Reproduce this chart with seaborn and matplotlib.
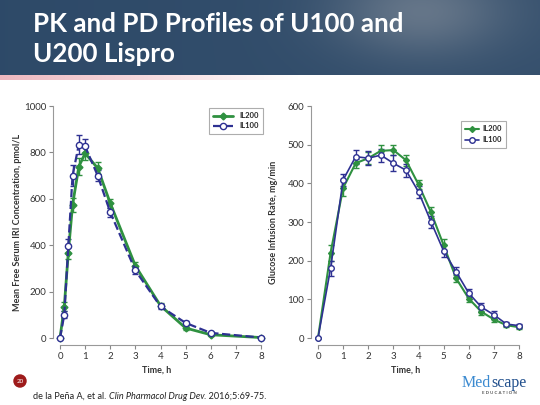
import numpy as np
import pandas as pd
import matplotlib
matplotlib.use("Agg")
import matplotlib.pyplot as plt
import seaborn as sns
from matplotlib.lines import Line2D
from matplotlib.patches import Circle

# ---------------- data ----------------
pk_time = [0, 0.17, 0.33, 0.5, 0.75, 1, 1.5, 2, 3, 4, 5, 6, 8]
pk_il200 = [0, 135, 367, 574, 739, 796, 732, 581, 311, 139, 43, 14, 2]
pk_il100 = [0, 100, 395, 700, 834, 826, 700, 542, 291, 136, 65, 22, 2]
pk_il200_err = [0, 20, 25, 30, 35, 28, 25, 20, 15, 10, 8, 5, 3]
pk_il100_err = [0, 15, 30, 45, 40, 30, 25, 20, 15, 12, 8, 5, 3]

pd_time = [0, 0.5, 1, 1.5, 2, 2.5, 3, 3.5, 4, 4.5, 5, 5.5, 6, 6.5, 7, 7.5, 8]
pd_il200 = [0, 220, 388, 452, 465, 484, 486, 460, 397, 325, 240, 154, 102, 68, 48, 33, 28]
pd_il100 = [0, 180, 409, 469, 465, 473, 452, 434, 378, 300, 225, 171, 116, 80, 60, 36, 32]
pd_il200_err = [0, 20, 20, 12, 15, 14, 14, 14, 12, 15, 15, 10, 10, 8, 6, 5, 5]
pd_il100_err = [0, 20, 15, 18, 18, 17, 20, 17, 15, 15, 15, 12, 10, 10, 10, 6, 5]

series_labels = ["IL200", "IL100"]
pk_yticks = [0, 200, 400, 600, 800, 1000]
pd_yticks = [0, 100, 200, 300, 400, 500, 600]
x_ticks = [0, 1, 2, 3, 4, 5, 6, 7, 8]

title_lines = ["PK and PD Profiles of U100 and", "U200 Lispro"]
pk_ylabel = "Mean Free Serum IRI Concentration, pmol/L"
pd_ylabel = "Glucose Infusion Rate, mg/min"
x_label = "Time, h"

GREEN = "#2f9140"
BLUE = "#2e3192"
TXT = "#333333"

sns.set_style("ticks")
plt.rcParams["font.family"] = ["Lato", "DejaVu Sans"]

W, H = 540, 405
fig = plt.figure(figsize=(W / 100, H / 100), dpi=100)
fig.patch.set_facecolor("white")

def fx(px):
    return px / W

def fy(py):
    return 1 - py / H

# ---------------- header ----------------
hax = fig.add_axes([0, fy(75), 1, 75 / H])
hax.set_axis_off()
xx = np.linspace(0, 1, 300)[None, :]
yy = np.linspace(0, 1, 60)[:, None]
base = np.array([0.18, 0.29, 0.41])
light = np.array([0.42, 0.48, 0.55])
blob = np.exp(-(((xx - 0.78) / 0.16) ** 2) - (((yy - 0.15) / 0.6) ** 2)) * 0.8
grad = (xx * 0.25)
mix = np.clip(blob + grad * 0.5, 0, 1)
img = base[None, None, :] * (1 - mix[..., None]) + light[None, None, :] * mix[..., None]
hax.imshow(img, aspect="auto", extent=[0, 1, 0, 1], origin="upper")
hax.set_xlim(0, 1)
hax.set_ylim(0, 1)
for line, base_y in zip(title_lines, [32, 62]):
    fig.text(fx(33), fy(base_y), line, color="white", fontsize=18.7,
             fontweight="bold", ha="left", va="baseline")

# pink strip
pax = fig.add_axes([0, fy(80), 1, 5 / H])
pax.set_axis_off()
g = np.clip(1 - np.linspace(0, 1, 300) / 0.55, 0, 1)[None, :]
pink = np.array([0.93, 0.72, 0.75])
white = np.array([1, 1, 1])
pimg = white[None, None, :] * (1 - g[..., None]) + pink[None, None, :] * g[..., None]
pax.imshow(pimg, aspect="auto", extent=[0, 1, 0, 1])

# ---------------- plotting helper ----------------
def style_axis(ax, ylim, yticks):
    ax.set_xlim(0, 8)
    ax.set_ylim(*ylim)
    ax.set_xticks(x_ticks)
    ax.set_yticks(yticks)
    ax.tick_params(axis="both", labelsize=7, colors="#888888", labelcolor=TXT,
                   length=3, width=0.8, pad=2)
    for s in ["left", "bottom"]:
        ax.spines[s].set_color("#999999")
        ax.spines[s].set_linewidth(0.8)
    sns.despine(ax=ax, offset=5)
    ax.set_xlabel(x_label, fontsize=6.5, fontweight="bold", color=TXT)


def draw_series(ax, t, v, e, color, face, ls, marker, ms, lw, label):
    ax.errorbar(t, v, yerr=e, fmt="none", ecolor=color, elinewidth=1.0,
                capsize=2.5, capthick=1.0, clip_on=False, zorder=2)
    sns.lineplot(x=t, y=v, ax=ax, color=color, linestyle=ls, linewidth=lw,
                 marker=marker, markersize=ms, markerfacecolor=face,
                 markeredgecolor=color, markeredgewidth=1.0, clip_on=False,
                 label=label, legend=False, zorder=3)

# ---------------- left: PK ----------------
ax1 = fig.add_axes([fx(60), fy(338), fx(201), 232 / H])
draw_series(ax1, pk_time, pk_il200, pk_il200_err, GREEN, GREEN, "-", "D", 3.5, 2.0, series_labels[0])
draw_series(ax1, pk_time, pk_il100, pk_il100_err, BLUE, "white", "--", "o", 4.5, 1.6, series_labels[1])
style_axis(ax1, (0, 1000), pk_yticks)
ax1.set_ylabel(pk_ylabel, fontsize=6.5, fontweight="bold", color=TXT)
ax1.yaxis.set_label_coords(-0.19, 0.5)
ax1.xaxis.set_label_coords(0.483, -0.12)
h1 = [Line2D([], [], color=GREEN, lw=2.0, marker="D", ms=3.5, mfc=GREEN, mec=GREEN),
      Line2D([], [], color=BLUE, lw=1.6, ls="--", marker="o", ms=4.5, mfc="white", mec=BLUE)]
leg1 = ax1.legend(h1, series_labels, loc="upper left",
                  bbox_to_anchor=((205 - 60) / 201, (338 - 104) / 232),
                  frameon=True, fancybox=False, handlelength=2.6,
                  borderpad=0.6, labelspacing=0.4, handletextpad=0.8,
                  prop={"weight": "bold", "size": 5.5})
leg1.get_frame().set_edgecolor("#999999")
leg1.get_frame().set_linewidth(0.8)

# ---------------- right: PD ----------------
ax2 = fig.add_axes([fx(318), fy(338), fx(201), 232 / H])
draw_series(ax2, pd_time, pd_il200, pd_il200_err, GREEN, GREEN, "-", "D", 3.0, 1.5, series_labels[0])
draw_series(ax2, pd_time, pd_il100, pd_il100_err, BLUE, "white", "-", "o", 4.0, 1.2, series_labels[1])
style_axis(ax2, (0, 600), pd_yticks)
ax2.set_ylabel(pd_ylabel, fontsize=6.5, fontweight="bold", color=TXT)
ax2.yaxis.set_label_coords(-0.2, 0.5)
ax2.xaxis.set_label_coords(0.438, -0.12)
h2 = [Line2D([], [], color=GREEN, lw=1.5, marker="D", ms=3.0, mfc=GREEN, mec=GREEN),
      Line2D([], [], color=BLUE, lw=1.2, marker="o", ms=4.0, mfc="white", mec=BLUE)]
leg2 = ax2.legend(h2, series_labels, loc="upper left",
                  bbox_to_anchor=((457 - 318) / 201, (338 - 117) / 232),
                  frameon=True, fancybox=False, handlelength=1.8,
                  borderpad=0.6, labelspacing=0.5, handletextpad=0.4,
                  prop={"weight": "bold", "size": 5.5})
leg2.get_frame().set_edgecolor("#999999")
leg2.get_frame().set_linewidth(0.8)

# ---------------- footer ----------------
cax = fig.add_axes([fx(13), fy(388), 14 / W, 14 / H])
cax.set_axis_off()
cax.add_patch(Circle((0.5, 0.5), 0.48, facecolor="#9e1b1b", edgecolor="none"))
cax.set_xlim(0, 1)
cax.set_ylim(0, 1)
cax.text(0.5, 0.48, "20", color="white", fontsize=4.5, ha="center", va="center")

fig.canvas.draw()
r = fig.canvas.get_renderer()
xpos = fx(33)
parts = [("de la Peña A, et al. ", "normal"), ("Clin Pharmacol Drug Dev", "italic"),
         (". 2016;5:69-75.", "normal")]
for txt, st in parts:
    t = fig.text(xpos, fy(399), txt, fontsize=6.6, style=st, color="#222222",
                 ha="left", va="baseline")
    bb = t.get_window_extent(renderer=r)
    xpos += bb.width / W

# Medscape logo
mt1 = fig.text(fx(462), fy(387), "Med", fontsize=11.5, color="#3b8ad0",
               family=["Liberation Serif", "DejaVu Serif"], ha="left", va="baseline")
bb = mt1.get_window_extent(renderer=r)
fig.text(fx(462) + bb.width / W, fy(387), "scape", fontsize=11.5, color="#1f4e8c",
         family=["Liberation Serif", "DejaVu Serif"], ha="left", va="baseline")
fig.text(fx(482), fy(394), "E D U C A T I O N", fontsize=3.2, color="#555555",
         fontweight="bold", ha="left", va="baseline")

fig.savefig("out.png", dpi=100)
